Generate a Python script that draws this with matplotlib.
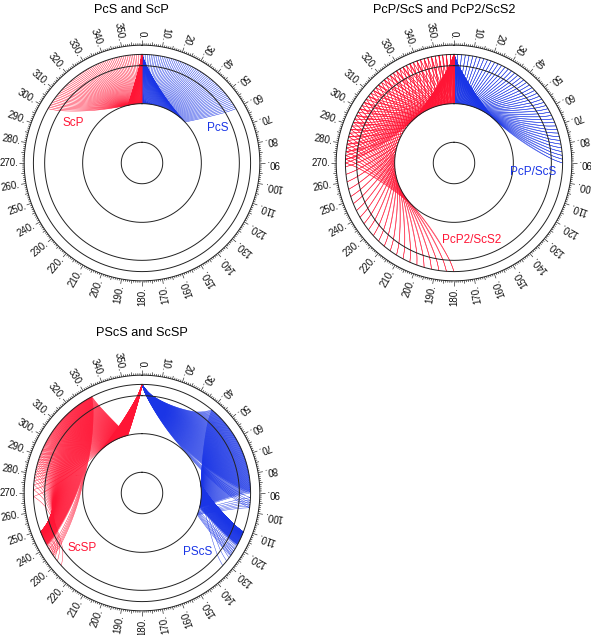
import numpy as np
import matplotlib
matplotlib.use('Agg')
import matplotlib.pyplot as plt
from matplotlib.collections import LineCollection

plt.rcParams['font.family'] = ['Liberation Sans', 'DejaVu Sans']

# ---------------- data ----------------
PANEL_TITLES = ["PcS and ScP", "PcP/ScS and PcP2/ScS2", "PScS and ScSP"]
TICK_LABEL_DEGREES = list(range(0, 360, 10))

# receiver distances (deg)
PCS_DISTANCES = list(range(0, 61, 1))
SCP_DISTANCES = list(range(0, 61, 1))
PCP_DISTANCES = list(range(0, 91, 2))
SCS_DISTANCES = list(range(0, 91, 2))
PCP2_DISTANCES = list(range(0, 181, 4))
SCS2_DISTANCES = list(range(0, 181, 4))
# ray parameters (s/deg) for the surface-converted phases
PSCS_SLOWNESS = list(np.round(np.arange(4.46, 8.36, 0.03), 2))
SCSP_SLOWNESS = list(np.round(np.arange(4.46, 8.36, 0.03), 2))

# Earth model (iasp91-like), depth km
R_EARTH = 6371.0
R_CMB = 3482.0
R_ICB = 1217.0
D_660 = 660.0
um_depth = [0, 20, 20, 35, 35, 210, 410, 410, 660, 660, 760]
um_vp = [5.8, 5.8, 6.5, 6.5, 8.04, 8.30, 9.03, 9.36, 10.20, 10.79, 11.06]
um_vs = [3.36, 3.36, 3.75, 3.75, 4.48, 4.52, 4.87, 5.07, 5.60, 5.95, 6.21]


def velocity(r, wave):
    d = R_EARTH - r
    x = r / R_EARTH
    if wave == 'P':
        um = np.interp(d, um_depth, um_vp)
        lm = 25.1486 - 41.1538 * x + 51.9932 * x**2 - 26.6083 * x**3
        dd = 14.49470 - 1.47089 * x
    else:
        um = np.interp(d, um_depth, um_vs)
        lm = 12.9303 - 21.2590 * x + 27.8988 * x**2 - 14.1080 * x**3
        dd = 8.16616 - 1.58206 * x
    return np.where(d < 760, um, np.where(d < 2740, lm, dd))


RN = np.linspace(R_EARTH, R_CMB, 2890)
RM = 0.5 * (RN[:-1] + RN[1:])
H = RN[:-1] - RN[1:]
ETA = {w: RN / velocity(RN, w) for w in ('P', 'S')}


def half_leg(p, wave, kind):
    eta = ETA[wave]
    A = eta**2 - p**2
    hi, lo = A[:-1], A[1:]
    full = (hi > 0) & (lo > 0)
    if full.all():
        if kind != 'cmb':
            return None
        seg = 2 * H / (np.sqrt(hi) + np.sqrt(lo)) * p / RM
        th = np.concatenate([[0.0], np.cumsum(seg)])
        return RN, th
    if kind != 'turn':
        return None
    k = int(np.argmin(full))
    if not hi[k] > 0:
        return None
    seg = 2 * H[:k] / (np.sqrt(hi[:k]) + np.sqrt(lo[:k])) * p / RM[:k]
    frac = hi[k] / (hi[k] - lo[k])
    rt = RN[k] - frac * H[k]
    segt = 2 * np.sqrt(hi[k]) * frac * H[k] / hi[k] * p / RM[k]
    th = np.concatenate([[0.0], np.cumsum(seg)])
    th = np.append(th, th[-1] + segt)
    r = np.append(RN[:k + 1], rt)
    return r, th


PHASES = {
    'PcS': [('P', 'cmb'), ('S', 'cmb')],
    'ScP': [('S', 'cmb'), ('P', 'cmb')],
    'PcP': [('P', 'cmb')] * 2,
    'ScS': [('S', 'cmb')] * 2,
    'PcP2': [('P', 'cmb')] * 4,
    'ScS2': [('S', 'cmb')] * 4,
    'PScS': [('P', 'turn')] * 2 + [('S', 'cmb')] * 2,
    'ScSP': [('S', 'cmb')] * 2 + [('P', 'turn')] * 2,
}

PG = np.linspace(0.0, 520.0, 2601)
HALF_TOT = {}
for key in [('P', 'cmb'), ('S', 'cmb')]:
    vals = np.full(PG.size, np.nan)
    for i, p in enumerate(PG):
        res = half_leg(p, *key)
        if res is not None:
            vals[i] = np.degrees(res[1][-1])
    HALF_TOT[key] = vals


def dist_table(phase):
    return sum(HALF_TOT[k] for k in PHASES[phase])


def find_p(phase, target):
    D = dist_table(phase)
    a, b = D[:-1], D[1:]
    ok = ~np.isnan(a) & ~np.isnan(b)
    out = []
    idx = np.where(ok & (((a - target) * (b - target) < 0) | (a == target)))[0]
    for i in idx:
        if a[i] == target:
            out.append(PG[i])
        else:
            out.append(PG[i] + (target - a[i]) / (b[i] - a[i]) * (PG[i + 1] - PG[i]))
    return out


def ray_xy(p, legs, sign):
    rs, ts = [], []
    t0 = 0.0
    for i, key in enumerate(legs):
        res = half_leg(p, *key)
        if res is None:
            return None
        r, th = res
        if i % 2 == 0:
            rr, tt = r, t0 + th
        else:
            rr, tt = r[::-1], t0 + th[-1] - th[::-1]
        sel = np.unique(np.r_[np.arange(0, rr.size, 8), rr.size - 1])
        rs.append(rr[sel]); ts.append(tt[sel])
        t0 += th[-1]
    r = np.concatenate(rs) / R_EARTH
    t = np.concatenate(ts) * sign
    return np.column_stack([r * np.sin(t), r * np.cos(t)])


def segments_by_distance(phase, distances, sign):
    segs = []
    for d in distances:
        for p in find_p(phase, d):
            xy = ray_xy(p, PHASES[phase], sign)
            if xy is not None:
                segs.append(xy)
    return segs


def segments_by_slowness(phase, slowness, sign):
    segs = []
    for ps in slowness:
        xy = ray_xy(ps * 180.0 / np.pi, PHASES[phase], sign)
        if xy is not None:
            segs.append(xy)
    return segs


RED = '#ff1535'
BLUE = '#1a35e6'

fig = plt.figure(figsize=(5.91, 6.35), dpi=100)
UNIT = 108.6
HALF = 1.25


def make_axes(cx, cy):
    s = 2 * HALF * UNIT
    ax = fig.add_axes([(cx - s / 2) / 591, (635 - cy - s / 2) / 635, s / 591, s / 635])
    ax.set_xlim(-HALF, HALF)
    ax.set_ylim(-HALF, HALF)
    ax.axis('off')
    return ax


def draw_frame(ax):
    tt = np.linspace(0, 2 * np.pi, 721)
    for rr in [1.0, (R_EARTH - D_660) / R_EARTH, R_CMB / R_EARTH, R_ICB / R_EARTH, 1.085]:
        ax.plot(rr * np.sin(tt), rr * np.cos(tt), color='#222222', lw=0.7, zorder=3)
    ticks = []
    for deg in range(360):
        ln = 0.045 if deg % 10 == 0 else (0.03 if deg % 5 == 0 else 0.018)
        a = np.radians(deg)
        ticks.append([(1.085 * np.sin(a), 1.085 * np.cos(a)),
                      ((1.085 + ln) * np.sin(a), (1.085 + ln) * np.cos(a))])
    ax.add_collection(LineCollection(ticks, colors='#333333', linewidths=0.5))
    for deg in TICK_LABEL_DEGREES:
        a = np.radians(deg)
        rl = 1.14
        ax.text(rl * np.sin(a), rl * np.cos(a), f"{deg}.", rotation=-90 - deg,
                rotation_mode='anchor', ha='right', va='center', fontsize=7,
                color='#111111')


def add_rays(ax, segs, color, lw=0.35):
    ax.add_collection(LineCollection(segs, colors=color, linewidths=lw, zorder=2))


centers = [(142, 163), (454, 163), (142, 493)]
title_x = [131, 444, 142]
title_y = [10, 10, 333]

ax1 = make_axes(*centers[0])
draw_frame(ax1)
add_rays(ax1, segments_by_distance('PcS', PCS_DISTANCES, 1), BLUE)
add_rays(ax1, segments_by_distance('ScP', SCP_DISTANCES, -1), RED)
ax1.text(-0.635, 0.368, 'ScP', color=RED, fontsize=8.5, ha='center', va='center')
ax1.text(0.70, 0.32, 'PcS', color=BLUE, fontsize=8.5, ha='center', va='center')

ax2 = make_axes(*centers[1])
draw_frame(ax2)
add_rays(ax2, segments_by_distance('PcP', PCP_DISTANCES, 1), BLUE)
add_rays(ax2, segments_by_distance('ScS', SCS_DISTANCES, 1), BLUE)
add_rays(ax2, segments_by_distance('PcP2', PCP2_DISTANCES, -1), RED)
add_rays(ax2, segments_by_distance('ScS2', SCS2_DISTANCES, -1), RED)
ax2.text(0.727, -0.083, 'PcP/ScS', color=BLUE, fontsize=8.5, ha='center', va='center')
ax2.text(0.166, -0.709, 'PcP2/ScS2', color=RED, fontsize=8.5, ha='center', va='center')

ax3 = make_axes(*centers[2])
draw_frame(ax3)
add_rays(ax3, segments_by_slowness('PScS', PSCS_SLOWNESS, 1), BLUE, 0.3)
add_rays(ax3, segments_by_slowness('ScSP', SCSP_SLOWNESS, -1), RED, 0.3)
ax3.text(-0.553, -0.506, 'ScSP', color=RED, fontsize=8.5, ha='center', va='center')
ax3.text(0.516, -0.543, 'PScS', color=BLUE, fontsize=8.5, ha='center', va='center')

for t, x, y in zip(PANEL_TITLES, title_x, title_y):
    fig.text(x / 591, 1 - y / 635, t, ha='center', va='center', fontsize=9.2)

fig.savefig('out.png', dpi=100)
